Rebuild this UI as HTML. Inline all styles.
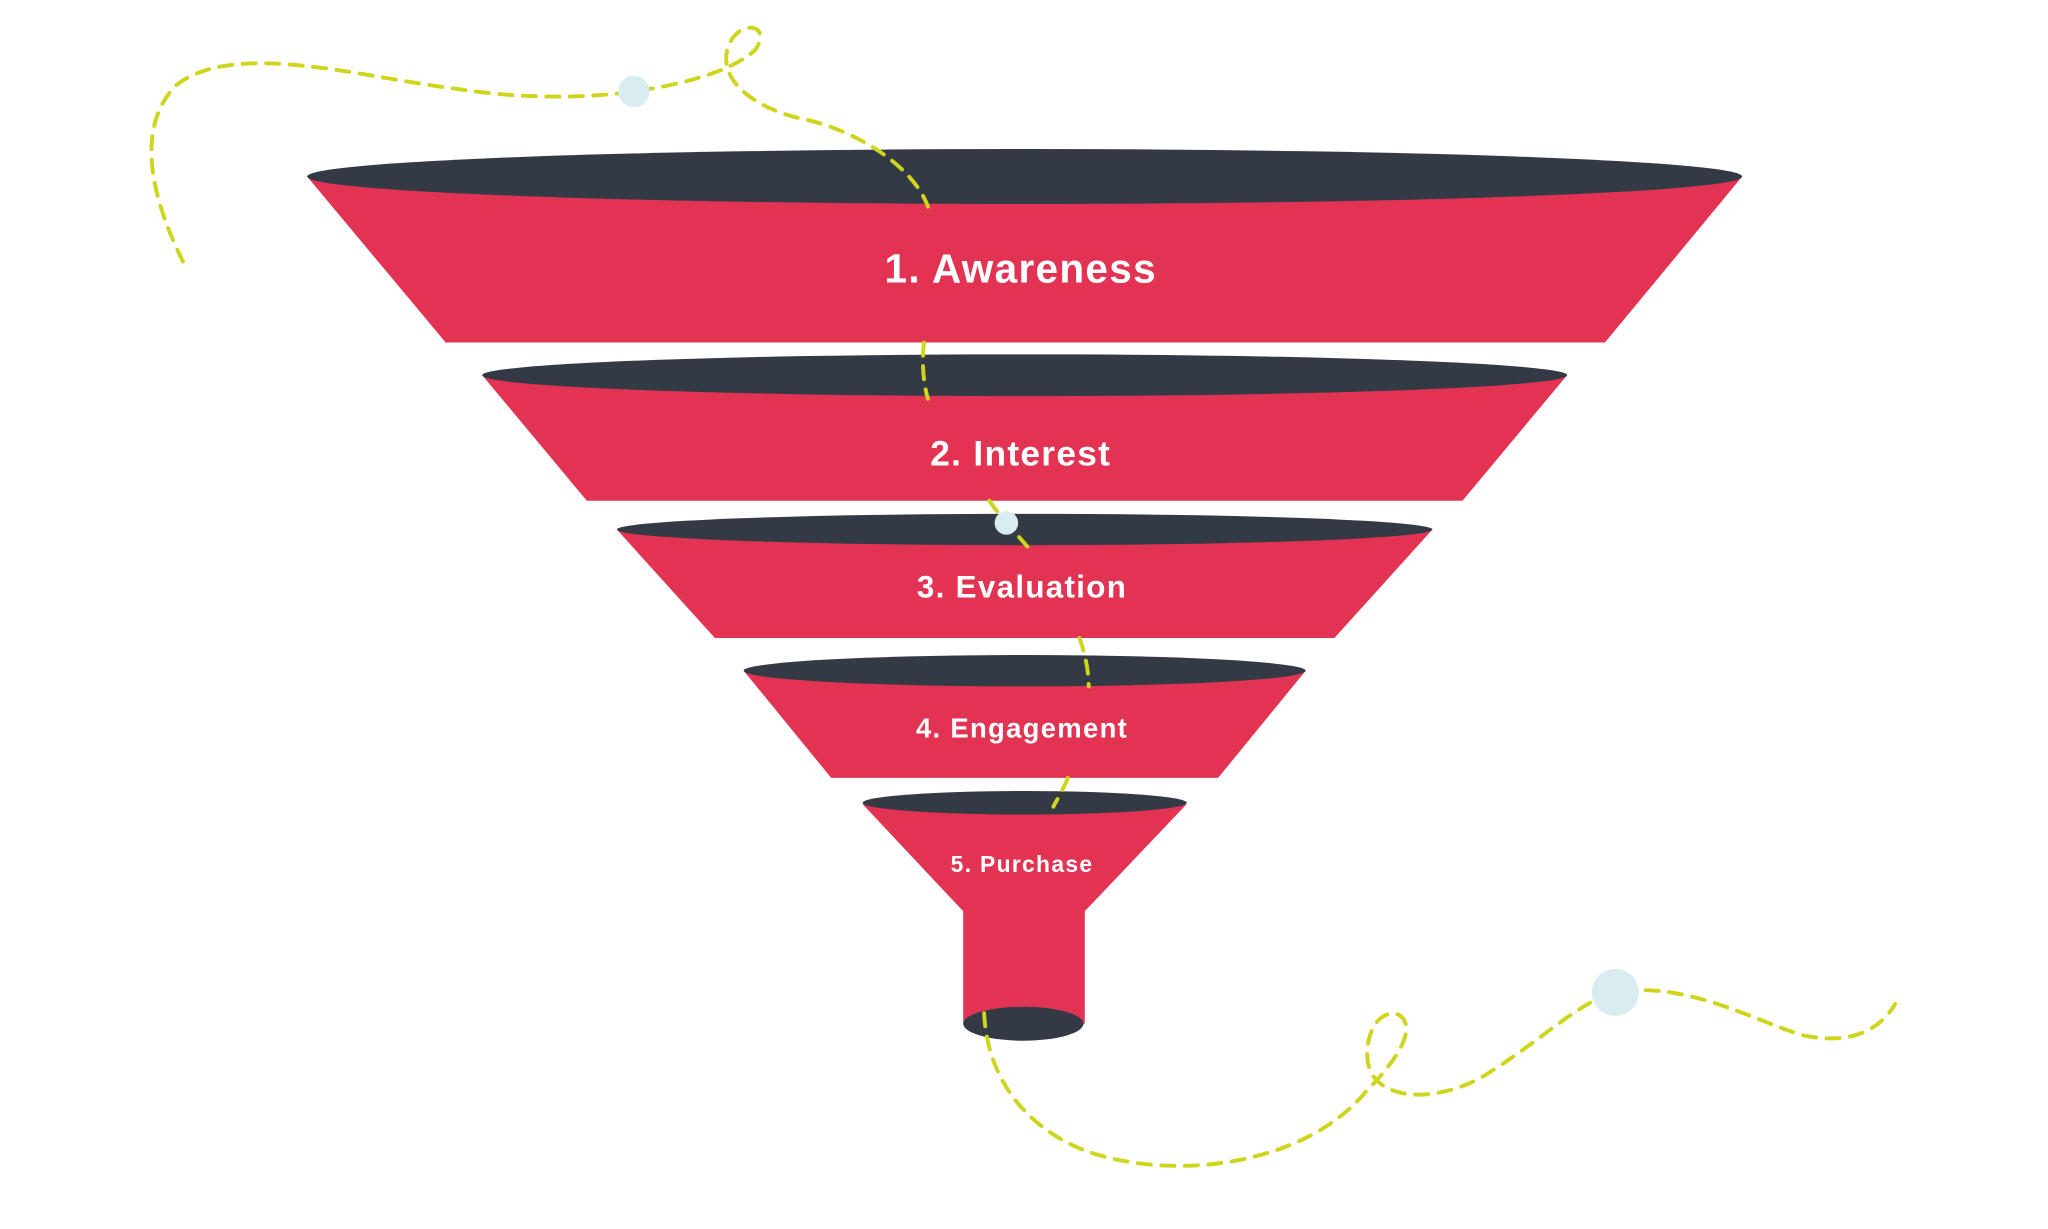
<!DOCTYPE html>
<html><head><meta charset="utf-8"><style>
html,body{margin:0;padding:0;background:#fff;}
svg{display:block}
text{font-family:"Liberation Sans",sans-serif;font-weight:bold;fill:#fff;text-anchor:middle;letter-spacing:1px}
</style></head><body>
<svg width="2048" height="1229" viewBox="0 0 1567 940" preserveAspectRatio="none" xmlns="http://www.w3.org/2000/svg">
<rect width="1567" height="940" fill="#fff"/>
<g fill="#e33353">
<polygon points="235,135 1333,135 1228,262 341,262"/>
<polygon points="369,287 1199,287 1119,383 449,383"/>
<polygon points="472,405 1096,405 1021,488 547,488"/>
<polygon points="569,513 999,513 932,595 636,595"/>
<polygon points="660,615 908,615 830,697 830,783 737,783 737,697"/>
</g>
<g fill="#333a46">
<ellipse cx="784" cy="135" rx="549" ry="21"/>
<ellipse cx="784" cy="287" rx="415" ry="16"/>
<ellipse cx="784" cy="405" rx="312" ry="12"/>
<ellipse cx="784" cy="513" rx="215" ry="12"/>
<ellipse cx="784" cy="614" rx="124" ry="9"/>
<ellipse cx="783" cy="783" rx="46" ry="13"/>
</g>
<g fill="none" stroke="#cfd51c" stroke-width="3" stroke-dasharray="10 8" stroke-linecap="round">
<path d="M140,200 C120,160 100,100 135,65 C180,30 280,60 350,68 C400,76 450,75 485,70 C520,65 560,55 578,38 C590,20 570,15 560,30 C545,55 570,80 610,90 C660,100 700,130 710,158"/>
<path d="M707,262 C705,280 707,295 710,305"/>
<path d="M757,383 C765,395 775,405 786,418"/>
<path d="M826,488 C830,500 833,512 833,525"/>
<path d="M817,595 C813,605 809,611 806,617"/>
<path d="M753,775 C755,820 780,860 830,880 C900,905 1000,890 1045,835 C1070,810 1085,785 1070,776 C1050,770 1040,805 1050,822 C1065,845 1110,840 1140,820 C1180,795 1210,765 1236,759 C1290,750 1340,780 1380,792 C1420,800 1440,785 1450,768"/>
</g>
<circle cx="485" cy="70" r="12" fill="#d9ecf0"/>
<circle cx="770" cy="400" r="9" fill="#d9ecf0"/>
<circle cx="1236" cy="759" r="18" fill="#d9ecf0"/>
<text x="781" y="216" font-size="31">1. Awareness</text>
<text x="781" y="356" font-size="27">2. Interest</text>
<text x="782" y="457" font-size="24">3. Evaluation</text>
<text x="782" y="564" font-size="21">4. Engagement</text>
<text x="782" y="667" font-size="17.5">5. Purchase</text>
</svg>
</body></html>
